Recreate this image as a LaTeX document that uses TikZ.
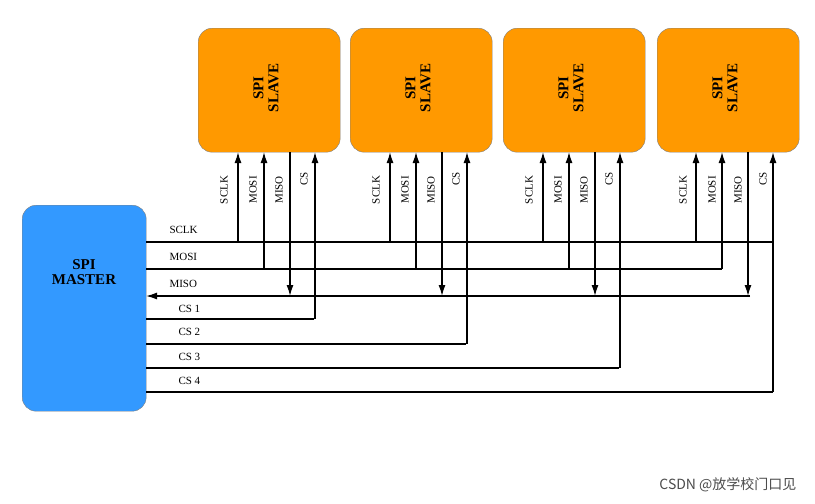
\documentclass[tikz,border=0pt]{standalone}
\usepackage{fontspec}
\setmainfont{Liberation Serif}
\newfontfamily\cjk{Noto Sans CJK SC}
\usetikzlibrary{arrows.meta}
\definecolor{masterblue}{HTML}{3399FF}
\definecolor{slaveorange}{HTML}{FF9900}
\begin{document}
\begin{tikzpicture}[x=1pt,y=-1pt,
  box/.style={draw=black!50, rounded corners=14pt, inner sep=0pt},
  title/.style={font=\fontsize{15}{15}\selectfont\bfseries, align=center},
  sig/.style={font=\fontsize{11}{11}\selectfont},
  wire/.style={line width=1.4pt},
  tip/.style={wire, -{Latex[length=11pt,width=7pt]}}]
    \useasboundingbox (0,0) rectangle (815,504);

    % Master
    \node[box, fill=masterblue, minimum width=124pt, minimum height=206pt,
      anchor=north west] (master) at (22,205) {};
    \node[title] (mastertxt) at (84,272) {SPI\\MASTER};

    % Slaves and their signal labels
    \foreach \i/\x in {1/198, 2/350, 3/503, 4/657} {
      \node[box, fill=slaveorange, minimum width=142pt, minimum height=124pt,
        anchor=north west] (slave\i) at (\x,28) {};
      \node[title, rotate=90] (slavetxt\i) at (\x+68,88) {SPI\\SLAVE};
      \node[sig, rotate=90] at (\x+26,190) {SCLK};
      \node[sig, rotate=90] at (\x+55,190) {MOSI};
      \node[sig, rotate=90] at (\x+81,190) {MISO};
      \node[sig, rotate=90] at (\x+106,179) {CS};
    }

    % Bus lines
    \draw[wire] (146,242) -- (773,242);
    \draw[wire] (146,269) -- (722,269);
    \draw[tip] (750,296) -- (146,296);
    \draw[wire] (146,319) -- (314,319);
    \draw[wire] (146,344) -- (466,344);
    \draw[wire] (146,368) -- (619,368);
    \draw[wire] (146,392) -- (773,392);

    \node[sig, anchor=west] at (166,230) {SCLK};
    \node[sig, anchor=west] at (166,257) {MOSI};
    \node[sig, anchor=west] at (166,284) {MISO};
    \node[sig, anchor=west] at (175,309) {CS 1};
    \node[sig, anchor=west] at (175,332) {CS 2};
    \node[sig, anchor=west] at (175,357) {CS 3};
    \node[sig, anchor=west] at (175,381) {CS 4};

    % Vertical taps
    \foreach \i/\x/\cs in {1/238/319, 2/390/344, 3/543/368, 4/696/392} {
      \draw[tip] (\x,242) -- (\x,152);
      \draw[tip] (\x+26,269) -- (\x+26,152);
      \draw[tip] (\x+52,152) -- (\x+52,296);
      \draw[tip] (\x+77,\cs) -- (\x+77,152);
    }

    \node[font=\fontsize{14}{14}\selectfont\cjk, text=black!70, anchor=east] at (800,485) {CSDN @放学校门口见};
\end{tikzpicture}
\end{document}
